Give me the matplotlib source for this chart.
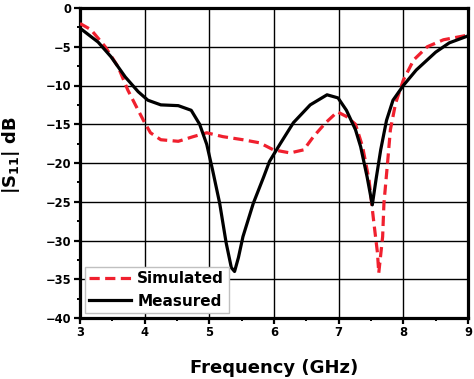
import matplotlib
matplotlib.use("Agg")
import matplotlib.pyplot as plt
from matplotlib.ticker import MultipleLocator

plt.rcParams['font.family'] = ['DejaVu Sans']
plt.rcParams['font.weight'] = 'bold'

# Measured |S11|
meas_f = [3.0, 3.28, 3.48, 3.7, 3.9, 4.05, 4.25, 4.52, 4.72, 4.85, 4.96, 5.05, 5.16,
          5.26, 5.34, 5.39, 5.45, 5.52, 5.68, 5.84, 5.93, 6.09, 6.3, 6.56, 6.82, 6.99,
          7.12, 7.26, 7.34, 7.44, 7.52, 7.58, 7.65, 7.74, 7.84, 8.0, 8.2, 8.5, 8.71, 9.0]
meas_db = [-2.6, -4.4, -6.3, -8.9, -10.8, -11.9, -12.5, -12.6, -13.2, -15.0, -17.6, -20.9, -25.2,
           -30.3, -33.5, -34.0, -32.2, -29.5, -25.2, -21.8, -19.8, -17.6, -14.8, -12.5, -11.2, -11.6,
           -13.2, -15.7, -17.9, -21.8, -25.4, -22.0, -18.3, -14.5, -11.9, -10.0, -8.0, -5.7, -4.5, -3.6]

# Simulated |S11|
sim_f = [3.0, 3.17, 3.39, 3.59, 3.74, 3.9, 4.0, 4.09, 4.25, 4.52, 4.75, 4.96, 5.21, 5.52,
         5.78, 5.99, 6.25, 6.46, 6.61, 6.8, 6.98, 7.12, 7.26, 7.37, 7.47, 7.54, 7.6, 7.62,
         7.68, 7.7, 7.76, 7.8, 7.88, 8.0, 8.16, 8.37, 8.62, 9.0]
sim_db = [-2.0, -2.8, -5.0, -7.6, -10.6, -13.2, -14.8, -16.1, -17.0, -17.2, -16.6, -16.1, -16.6, -17.0,
          -17.4, -18.3, -18.7, -18.3, -16.6, -14.8, -13.4, -14.0, -15.0, -17.9, -22.2, -27.4, -31.6, -34.2,
          -29.5, -25.2, -19.6, -15.7, -12.3, -9.3, -6.7, -5.0, -4.1, -3.5]

x_ticks = [3, 4, 5, 6, 7, 8, 9]
y_ticks = [0, -5, -10, -15, -20, -25, -30, -35, -40]

fig = plt.figure(figsize=(4.74, 3.79), dpi=100)
ax = fig.add_axes([80/474, 1-318/379, (468-80)/474, (318-8)/379])

ax.plot(sim_f, sim_db, color='#f0202e', lw=2.3, ls=(0, (3.2, 1.7)), label='Simulated', zorder=3)
ax.plot(meas_f, meas_db, color='black', lw=2.3, label='Measured', zorder=4)

ax.set_xlim(3, 9)
ax.set_ylim(-40, 0)
ax.set_xticks(x_ticks)
ax.set_yticks(y_ticks)
ax.set_yticklabels(['0' if v == 0 else '\u2212%d' % abs(v) for v in y_ticks])
ax.xaxis.set_minor_locator(MultipleLocator(0.5))
ax.yaxis.set_minor_locator(MultipleLocator(2.5))
ax.grid(True, which='major', color='black', lw=1.0, zorder=1)
ax.set_axisbelow(True)

ax.tick_params(which='major', direction='out', length=4, width=1.6, labelsize=8.3, pad=2)
ax.tick_params(which='minor', direction='out', length=2.5, width=1.4)
for sp in ax.spines.values():
    sp.set_linewidth(2.3)

ax.set_xlabel('Frequency (GHz)', fontsize=13, fontweight='bold', labelpad=14)
ax.set_ylabel('|S$_{\\mathbf{11}}$| dB', fontsize=13, fontweight='bold')
ax.yaxis.set_label_coords(-0.15, 0.526)

leg = ax.legend(loc='lower left', fontsize=11, fancybox=False, frameon=True,
                edgecolor='#c0c0c0', framealpha=1, borderaxespad=0.3,
                handlelength=2.75, handletextpad=0.4, borderpad=0.3, labelspacing=0.5)
leg.get_frame().set_linewidth(1.0)
for t in leg.get_texts():
    t.set_fontweight('bold')

fig.savefig('out.png', dpi=100)
